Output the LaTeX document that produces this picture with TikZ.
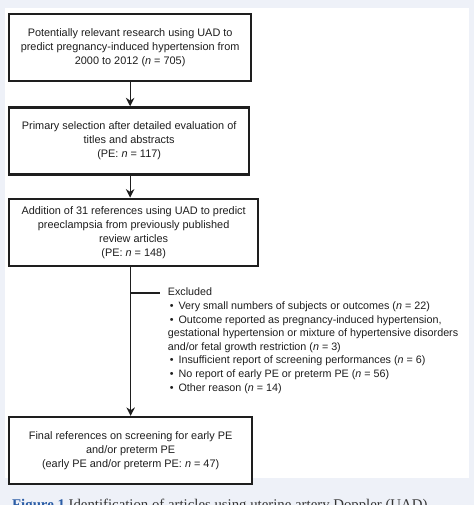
\documentclass[tikz,border=0pt]{standalone}
\usepackage{fontspec}
\setmainfont{Liberation Sans}
\newfontfamily\captionfont{Liberation Serif}
\usetikzlibrary{
  arrows.meta,
  positioning
}
\definecolor{ink}{HTML}{1E1E1E}
\definecolor{paper}{HTML}{EEF1F8}
\definecolor{figblue}{HTML}{2B5DA6}
\definecolor{captext}{HTML}{333333}
\newcommand{\nn}{\textit{n}}
\newcommand{\reason}{\hspace*{2pt}\textbullet\hspace{5pt}}
\tikzset{
  stage/.style={
    draw=ink,
    line width=2.3pt,
    fill=white,
    minimum height=67pt,
    inner sep=0pt,
    align=center,
    text=ink,
    font=\fontsize{10.9}{14}\selectfont
  },
  flow/.style={
    -{Stealth[length=8.5pt,width=8.5pt]},
    line width=1.3pt,
    draw=ink
  },
  branch/.style={
    line width=1.1pt,
    draw=ink
  },
  excludednote/.style={
    inner sep=0pt,
    align=left,
    text=ink,
    font=\fontsize{10.75}{13.6}\selectfont
  }
}

\begin{document}
\begin{tikzpicture}[x=1pt, y=1pt]
  \useasboundingbox (0,0) rectangle (474,-505);
  \fill[paper] (0,0) rectangle (474,-505);
  \fill[white] (5,-8) rectangle (469,-478);

  % Selection steps.
  \node[stage, minimum width=242pt, anchor=north west] (search) at (8,-13) {
    Potentially relevant research using UAD to\\
    predict pregnancy-induced hypertension from\\
    2000 to 2012 (\nn{} = 705)
  };
  \node[stage, minimum width=240pt, below=24pt of search.south west,
    anchor=north west] (primary) {
    Primary selection after detailed evaluation of\\
    titles and abstracts\\
    (PE: \nn{} = 117)
  };
  \node[stage, minimum width=249pt, below=22pt of primary.south west,
    anchor=north west] (addition) {
    Addition of 31 references using UAD to predict\\
    preeclampsia from previously published\\
    review articles\\
    (PE: \nn{} = 148)
  };
  \node[stage, minimum width=243pt, below=149pt of addition.south west,
    anchor=north west] (final) {
    Final references on screening for early PE\\
    and/or preterm PE\\
    (early PE and/or preterm PE: \nn{} = 47)
  };

  \draw[flow] (search.south) -- (search.south |- primary.north);
  \draw[flow] (search.south |- primary.south) -- (search.south |- addition.north);
  \draw[flow] (final.north |- addition.south) -- (final.north);

  % Exclusions.
  \coordinate (forkrow) at (0,-293);
  \draw[branch] (final.north |- forkrow) coordinate (fork) -- ++(29,0)
    coordinate (forkend);
  \node[excludednote, anchor=north west] (excluded)
    at ([shift={(8pt,5pt)}]forkend) {
    Excluded\\
    \reason Very small numbers of subjects or outcomes (\nn{} = 22)\\
    \reason Outcome reported as pregnancy-induced hypertension,\\
    gestational hypertension or mixture of hypertensive disorders\\
    and/or fetal growth restriction (\nn{} = 3)\\
    \reason Insufficient report of screening performances (\nn{} = 6)\\
    \reason No report of early PE or preterm PE (\nn{} = 56)\\
    \reason Other reason (\nn{} = 14)
  };

  \begin{scope}
    \clip (0,0) rectangle (474,-505);
    \node[anchor=base west, inner sep=0pt, text=captext,
      font=\captionfont\fontsize{14.8}{17}\selectfont] (caption) at (12,-509.5)
      {\textcolor{figblue}{\textbf{Figure 1}} Identification of articles
      using uterine artery Doppler (UAD)};
  \end{scope}
\end{tikzpicture}
\end{document}
